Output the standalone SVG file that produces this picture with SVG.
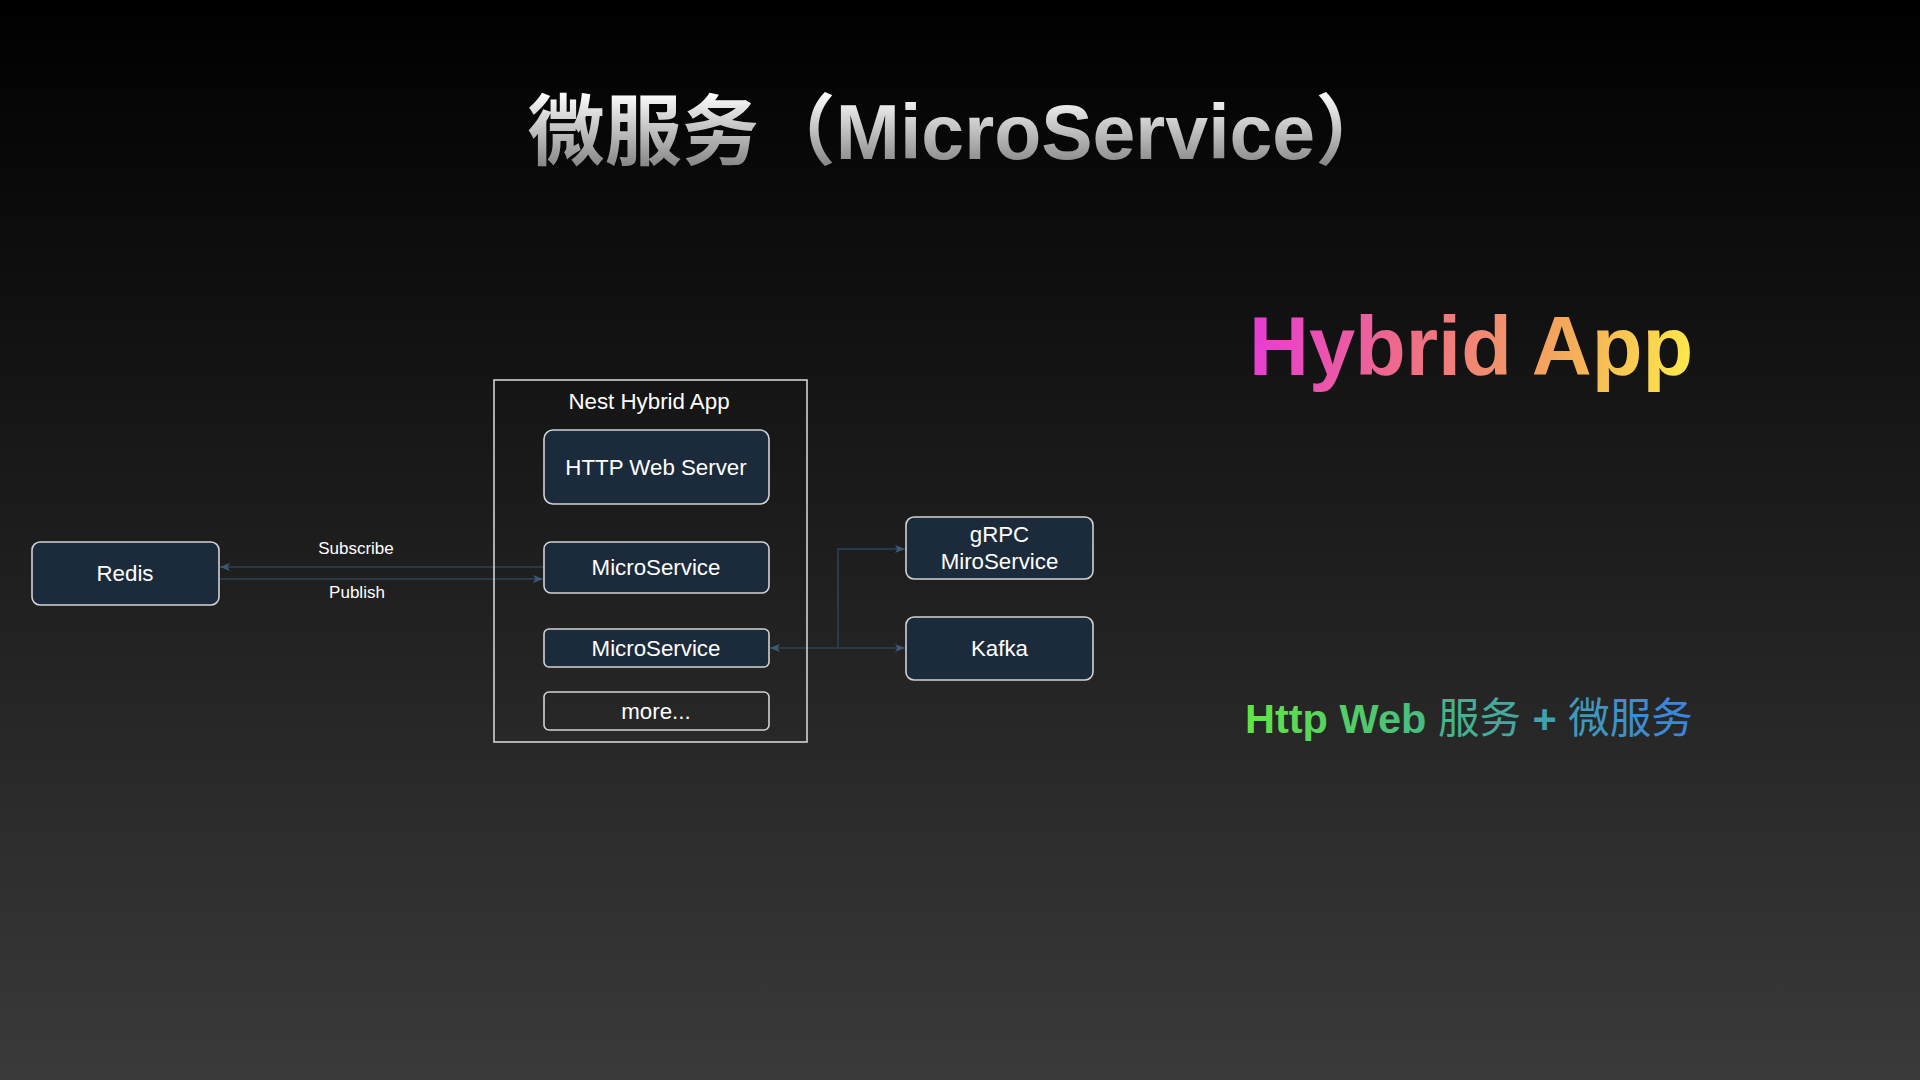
<svg xmlns="http://www.w3.org/2000/svg" width="1920" height="1080" viewBox="0 0 1920 1080">
<defs>
<linearGradient id="bg" x1="0" y1="0" x2="0" y2="1">
<stop offset="0" stop-color="#000000"/>
<stop offset="1" stop-color="#3a3a3a"/>
</linearGradient>
<linearGradient id="titleGrad" gradientUnits="userSpaceOnUse" x1="0" y1="92" x2="0" y2="165">
<stop offset="0" stop-color="#ffffff"/>
<stop offset="1" stop-color="#888888"/>
</linearGradient>
<linearGradient id="hybridGrad" gradientUnits="userSpaceOnUse" x1="1250" y1="300" x2="1692" y2="380">
<stop offset="0" stop-color="#e63ad8"/>
<stop offset="0.35" stop-color="#ee6a8a"/>
<stop offset="0.7" stop-color="#f4a85a"/>
<stop offset="1" stop-color="#fdeb4a"/>
</linearGradient>
<linearGradient id="subGrad" gradientUnits="userSpaceOnUse" x1="1245" y1="0" x2="1694" y2="0">
<stop offset="0" stop-color="#62e644"/>
<stop offset="0.45" stop-color="#45b58a"/>
<stop offset="1" stop-color="#3b82e6"/>
</linearGradient>
<marker id="arr" viewBox="0 0 10 10" refX="10" refY="5" markerWidth="10" markerHeight="10" markerUnits="userSpaceOnUse" orient="auto-start-reverse">
<path d="M0,1 L10,5 L0,9 L2.5,5 Z" fill="#3d5a78"/>
</marker>
<style>
.node{fill:#1c2b3b;stroke:#d2d2d2;stroke-width:1.6}
.plain{fill:none;stroke:#d2d2d2;stroke-width:1.6}
.lbl{font-family:"Liberation Sans",Arial,sans-serif;fill:#ffffff;text-anchor:middle}
.n{font-size:22.3px}
.e{font-size:17px}
.conn{fill:none;stroke:#2e4258;stroke-width:1.6}
.cjk{font-weight:normal}
</style>
</defs>
<rect x="0" y="0" width="1920" height="1080" fill="url(#bg)"/>

<text x="960" y="159" font-family="'Liberation Sans','Noto Sans CJK SC',sans-serif" font-size="77" font-weight="bold" fill="url(#titleGrad)" text-anchor="middle">微服务（MicroService）</text>

<text x="1249" y="375" font-family="'Liberation Sans',Arial,sans-serif" font-size="83" font-weight="bold" fill="url(#hybridGrad)">Hybrid App</text>
<text x="1245" y="733" font-family="'Liberation Sans','Noto Sans CJK SC',sans-serif" font-size="41.5" font-weight="bold" fill="url(#subGrad)">Http Web <tspan class="cjk">服务</tspan> + <tspan class="cjk">微服务</tspan></text>

<g id="connectors">
<line class="conn" x1="544" y1="567" x2="220" y2="567" marker-end="url(#arr)"/>
<line class="conn" x1="220" y1="579" x2="543" y2="579" marker-end="url(#arr)"/>
<line class="conn" x1="770" y1="648" x2="905" y2="648" marker-start="url(#arr)" marker-end="url(#arr)"/>
<polyline class="conn" points="838,648 838,549 905,549" marker-end="url(#arr)"/>
<text class="lbl e" x="356" y="554">Subscribe</text>
<text class="lbl e" x="357" y="598">Publish</text>
</g>

<g id="nest-hybrid-app">
<rect class="plain" x="494" y="380" width="313" height="362"/>
<text class="lbl n" x="649" y="409">Nest Hybrid App</text>
</g>

<g id="redis">
<rect class="node" x="32" y="542" width="187" height="63" rx="8"/>
<text class="lbl n" x="125" y="581">Redis</text>
</g>

<g id="http-web-server">
<rect class="node" x="544" y="430" width="225" height="74" rx="9"/>
<text class="lbl n" x="656" y="475">HTTP Web Server</text>
</g>

<g id="microservice-1">
<rect class="node" x="544" y="542" width="225" height="51" rx="7"/>
<text class="lbl n" x="656" y="575">MicroService</text>
</g>

<g id="microservice-2">
<rect class="node" x="544" y="629" width="225" height="38" rx="5"/>
<text class="lbl n" x="656" y="656">MicroService</text>
</g>

<g id="more">
<rect class="plain" x="544" y="692" width="225" height="38" rx="5"/>
<text class="lbl n" x="656" y="719">more...</text>
</g>

<g id="grpc-microservice">
<rect class="node" x="906" y="517" width="187" height="62" rx="8"/>
<text class="lbl n" x="999.5" y="542">gRPC</text>
<text class="lbl n" x="999.5" y="569">MiroService</text>
</g>

<g id="kafka">
<rect class="node" x="906" y="617" width="187" height="63" rx="8"/>
<text class="lbl n" x="999.5" y="656">Kafka</text>
</g>
</svg>
